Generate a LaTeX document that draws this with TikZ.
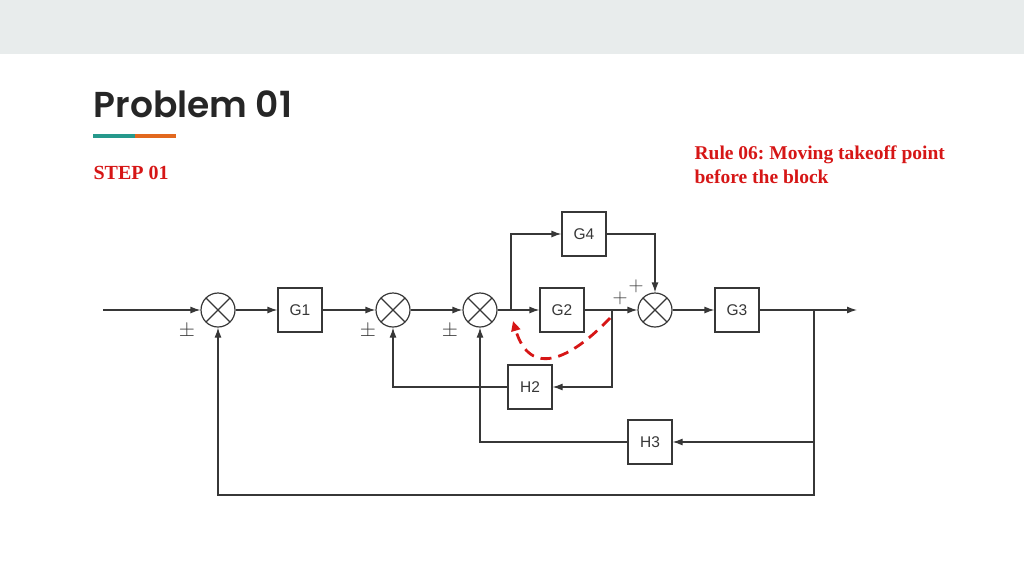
\documentclass[tikz,border=0pt]{standalone}
\usepackage{fontspec}
\setmainfont{Liberation Serif}
\newfontfamily\titlefont{Poppins SemiBold}
\newfontfamily\blockfont{Liberation Sans}
\usetikzlibrary{arrows.meta,positioning}

\definecolor{band}{RGB}{232,236,236}
\definecolor{lineteal}{RGB}{38,153,140}
\definecolor{lineorange}{RGB}{226,104,30}
\definecolor{rulered}{RGB}{214,22,22}
\definecolor{wire}{RGB}{55,55,55}

\tikzset{
  block/.style={draw=wire,fill=white,minimum size=44pt,inner sep=0pt,text=wire,
    font=\blockfont\fontsize{15.5}{18}\selectfont},
  sum/.style={draw=wire,fill=white,circle,minimum size=34pt,inner sep=0pt,
    path picture={\draw[-,wire,very thick]
      (path picture bounding box.north west) -- (path picture bounding box.south east)
      (path picture bounding box.north east) -- (path picture bounding box.south west);}},
  sign/.style={inner sep=0pt,text=wire,font=\fontsize{21}{21}\selectfont},
}

\begin{document}
\frenchspacing
\begin{tikzpicture}[x=1pt,y=-1pt,->,>={Latex[length=10pt,width=7pt]},very thick,color=wire,node distance=82pt]
  \useasboundingbox (0,0) rectangle (1024,576);
  \fill[-,band] (0,0) rectangle (1024,54);

  % heading
  \node[anchor=base west,inner sep=0pt,text=black!85,font=\titlefont\fontsize{36}{40}\selectfont] (title) at (93,117) {Problem 01};
  \draw[-,lineteal,line width=4pt] (93,136) -- (135,136);
  \draw[-,lineorange,line width=4pt] (135,136) -- (176,136);
  \node[anchor=base west,inner sep=0pt,text=rulered,font=\bfseries\fontsize{20}{24}\selectfont] (step) at (93,179) {STEP 01};
  \node[anchor=north west,inner sep=0pt,align=left,text=rulered,font=\bfseries\fontsize{19.5}{24.5}\selectfont] (rule) at (694,145) {Rule 06: Moving takeoff point\\before the block};

  % forward path
  \node[sum] (s1) at (218,310) {};
  \node[block] (g1) [right of=s1] {G1};
  \node[sum] (s2) [right of=g1,node distance=93pt] {};
  \node[sum] (s3) [right of=s2,node distance=87pt] {};
  \node[block] (g2) [right of=s3] {G2};
  \node[sum] (s4) [right of=g2,node distance=93pt] {};
  \node[block] (g3) [right of=s4] {G3};
  \node[block] (g4) at (584,234) {G4};
  \node[block] (h2) at (530,387) {H2};
  \node[block] (h3) at (650,442) {H3};

  \coordinate (in) at (103,310);
  \coordinate (t1) at (511,310);
  \coordinate (t2) at (612,310);
  \coordinate (t3) at (814,310);
  \coordinate (out) at (857,310);
  \coordinate (b) at (814,495);

  \path (in) edge (s1) (s1) edge (g1) (g1) edge (s2) (s2) edge (s3)
        (s3) edge (g2) (g2) edge (s4) (s4) edge (g3) (g3) edge (out);
  \draw (t1) |- (g4);
  \draw (g4) -| (s4);
  \draw (t2) |- (h2);
  \draw (h2) -| (s2);
  \draw (t3) |- (h3);
  \draw (h3) -| (s3);
  \draw (t3) -- (b) -| (s1);

  % signs
  \node[sign] (p1) at (187,331) {$\pm$};
  \node[sign] (p2) at (368,331) {$\pm$};
  \node[sign] (p3) at (450,331) {$\pm$};
  \node[sign] (p4) at (620,298) {$+$};
  \node[sign] (p5) at (636,286) {$+$};

  % moved takeoff point
  \coordinate (r0) at (610,318);
  \coordinate (r1) at (513,321);
  \draw[rulered,line width=2.8pt,dash pattern=on 11pt off 7pt,-{Triangle[length=10pt,width=9pt]}]
    (r0) .. controls (570,360) and (530,378) .. (r1);
\end{tikzpicture}
\end{document}
